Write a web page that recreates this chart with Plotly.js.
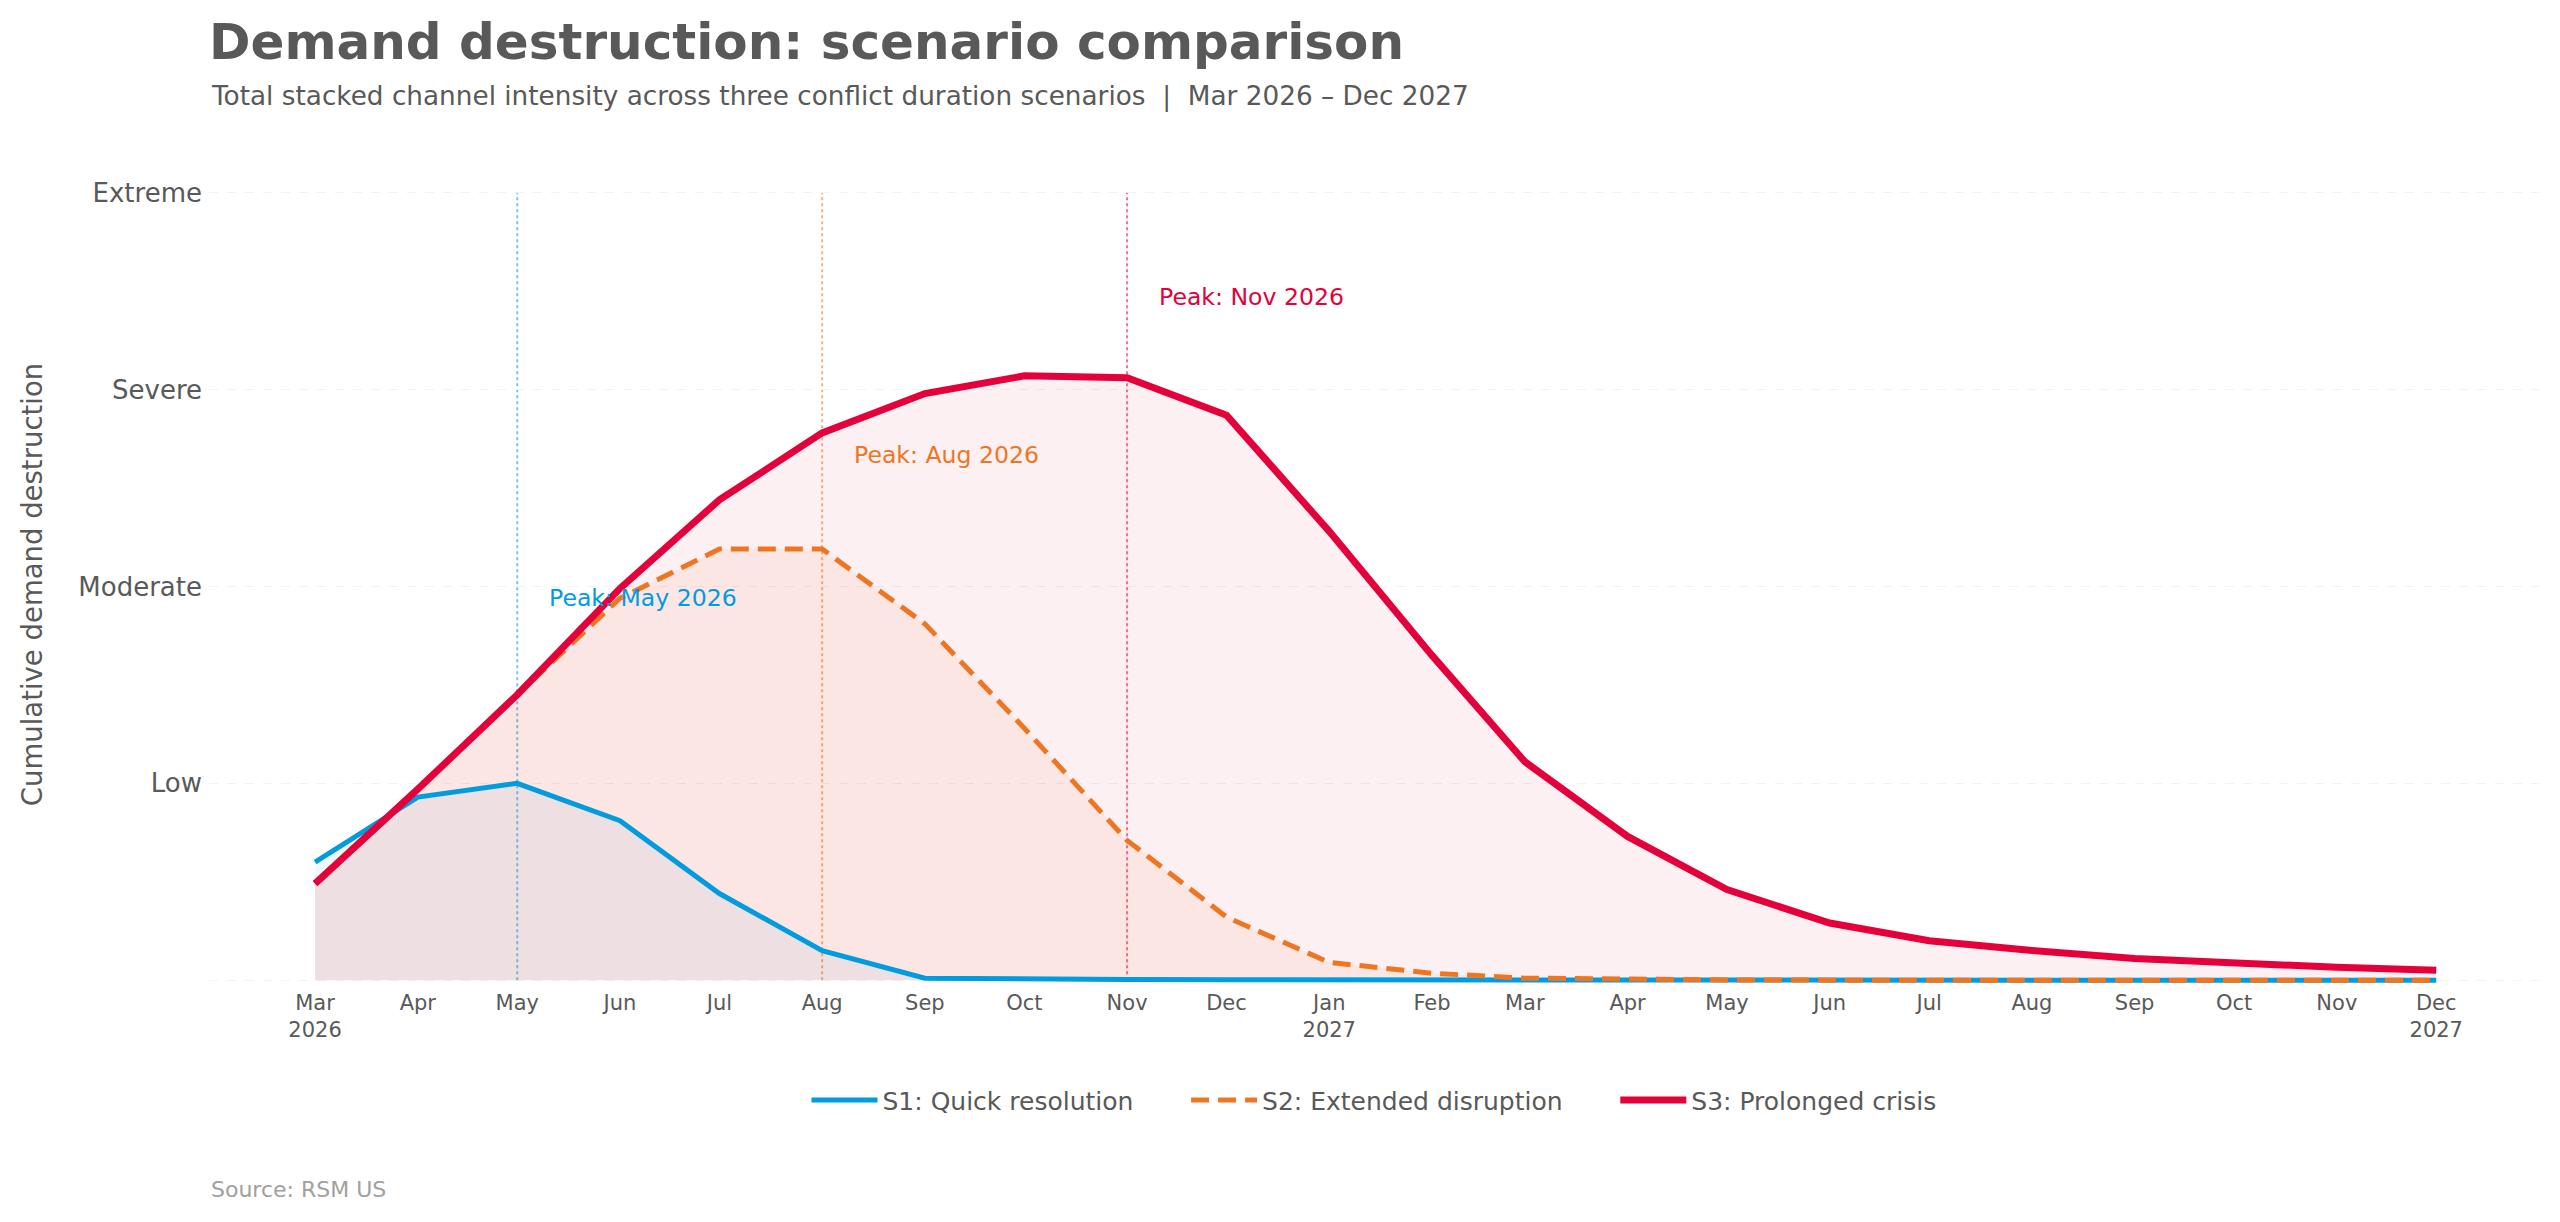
<!DOCTYPE html>
<html>
<head>
<meta charset="utf-8">
<script src="https://cdn.plot.ly/plotly-3.0.1.min.js"></script>
<style>
  html, body { margin: 0; padding: 0; background: #ffffff; }
  #chart { width: 2560px; height: 1222px; }
</style>
</head>
<body>
<div id="chart"></div>
<script>
// Monthly timeline, Mar 2026 – Dec 2027
const months = [
  '2026-03-01','2026-04-01','2026-05-01','2026-06-01','2026-07-01','2026-08-01',
  '2026-09-01','2026-10-01','2026-11-01','2026-12-01','2027-01-01','2027-02-01',
  '2027-03-01','2027-04-01','2027-05-01','2027-06-01','2027-07-01','2027-08-01',
  '2027-09-01','2027-10-01','2027-11-01','2027-12-01'
];
const monthLabels = [
  'Mar<br>2026','Apr','May','Jun','Jul','Aug','Sep','Oct','Nov','Dec',
  'Jan<br>2027','Feb','Mar','Apr','May','Jun','Jul','Aug','Sep','Oct','Nov','Dec<br>2027'
];

// Total stacked channel intensity per scenario (0 = none, 4 = extreme)
const s1Quick = [0.60, 0.93, 1.00, 0.81, 0.44, 0.15, 0.01, 0.005, 0.003, 0.002, 0.001, 0.001,
                 0, 0, 0, 0, 0, 0, 0, 0, 0, 0];
const s2Extended = [0.49, 0.97, 1.45, 1.94, 2.19, 2.19, 1.81, 1.28, 0.71, 0.32, 0.09, 0.035,
                    0.01, 0.003, 0.001, 0, 0, 0, 0, 0, 0, 0];
const s3Prolonged = [0.49, 0.97, 1.45, 1.99, 2.44, 2.78, 2.98, 3.07, 3.06, 2.87, 2.28, 1.65,
                     1.11, 0.73, 0.46, 0.29, 0.20, 0.15, 0.11, 0.085, 0.065, 0.05];

const severityLevels = [0, 1, 2, 3, 4];
const severityLabels = ['', 'Low', 'Moderate', 'Severe', 'Extreme'];

const scenarioNames = ['S1: Quick resolution', 'S2: Extended disruption', 'S3: Prolonged crisis'];
const peakMonths = ['2026-05-01', '2026-08-01', '2026-11-01'];
const peakLabels = ['Peak: May 2026', 'Peak: Aug 2026', 'Peak: Nov 2026'];
const peakLabelLevels = [1.94, 2.67, 3.47];

const colors = ['#009CDE', '#EE7623', '#E4003B'];
const fills = ['rgba(0,156,222,0.06)', 'rgba(238,118,35,0.07)', 'rgba(228,0,59,0.06)'];
const series = [s1Quick, s2Extended, s3Prolonged];
const lineWidths = [5, 5, 7];
const dashes = ['solid', '18px,9px', 'solid'];

const FONT = 'DejaVu Sans, Verdana, sans-serif';
const TEXT = '#595959';
// extra room between legend entries
const LEGEND_PAD = '\u00a0'.repeat(6);

const traces = [];
// shaded areas underneath
series.forEach((ys, i) => {
  traces.push({
    x: months, y: ys, type: 'scatter', mode: 'lines',
    fill: 'tozeroy', fillcolor: fills[i],
    line: { width: 0, color: fills[i] },
    hoverinfo: 'skip', showlegend: false
  });
});
// scenario lines
series.forEach((ys, i) => {
  traces.push({
    x: months, y: ys, type: 'scatter', mode: 'lines',
    name: scenarioNames[i] + (i < series.length - 1 ? LEGEND_PAD : ''),
    line: { color: colors[i], width: lineWidths[i], dash: dashes[i] }
  });
});

// peak markers
const shapes = peakMonths.map((m, i) => ({
  type: 'line', xref: 'x', yref: 'y',
  x0: m, x1: m, y0: 0, y1: 4,
  line: { color: colors[i], width: 2, dash: 'dot' },
  opacity: 0.55, layer: 'below'
}));

const annotations = peakMonths.map((m, i) => ({
  x: m, y: peakLabelLevels[i], xref: 'x', yref: 'y',
  text: peakLabels[i], showarrow: false,
  xanchor: 'left', yanchor: 'middle', xshift: 30,
  font: { family: FONT, size: 23.6, color: colors[i] }
}));

annotations.push({
  xref: 'paper', yref: 'paper', x: 0, y: 1.105,
  xanchor: 'left', yanchor: 'middle', showarrow: false,
  text: 'Total stacked channel intensity across three conflict duration scenarios  |  Mar 2026 – Dec 2027',
  font: { family: FONT, size: 26.3, color: TEXT }
});
annotations.push({
  xref: 'paper', yref: 'paper', x: 0, y: -0.25,
  xanchor: 'left', yanchor: 'middle', showarrow: false,
  text: 'Source: RSM US',
  font: { family: FONT, size: 22, color: '#a0a0a0' }
});

const layout = {
  width: 2560, height: 1222,
  paper_bgcolor: '#ffffff', plot_bgcolor: '#ffffff',
  margin: { l: 209, r: 21, t: 181, b: 234 },
  font: { family: FONT, color: TEXT },
  title: {
    text: '<b>Demand destruction: scenario comparison</b>',
    x: 209 / 2560, xanchor: 'left', xref: 'container',
    y: 1 - 41 / 1222, yanchor: 'middle', yref: 'container',
    font: { family: FONT, size: 50, color: TEXT }
  },
  xaxis: {
    type: 'date',
    range: ['2026-01-28', '2028-01-01'],
    tickvals: months, ticktext: monthLabels,
    tickfont: { family: FONT, size: 21, color: TEXT },
    showgrid: false, zeroline: false, showline: false, ticks: ''
  },
  yaxis: {
    range: [-0.04, 4.06],
    tickvals: severityLevels, ticktext: severityLabels,
    tickfont: { family: FONT, size: 26, color: TEXT },
    showgrid: true, gridcolor: '#f2f2f2', gridwidth: 1, griddash: 'dash',
    zeroline: false, showline: false, ticks: '',
    ticklabelstandoff: 6,
    title: { text: 'Cumulative demand destruction', standoff: 27,
             font: { family: FONT, size: 27.5, color: TEXT } }
  },
  legend: {
    orientation: 'h', xref: 'paper', yref: 'paper',
    x: 0.5, xanchor: 'center', y: -0.139, yanchor: 'middle',
    font: { family: FONT, size: 25, color: TEXT },
    itemwidth: 66, tracegroupgap: 0
  },
  shapes: shapes,
  annotations: annotations,
  showlegend: true
};

Plotly.newPlot('chart', traces, layout, { staticPlot: true, displayModeBar: false });
</script>
</body>
</html>
